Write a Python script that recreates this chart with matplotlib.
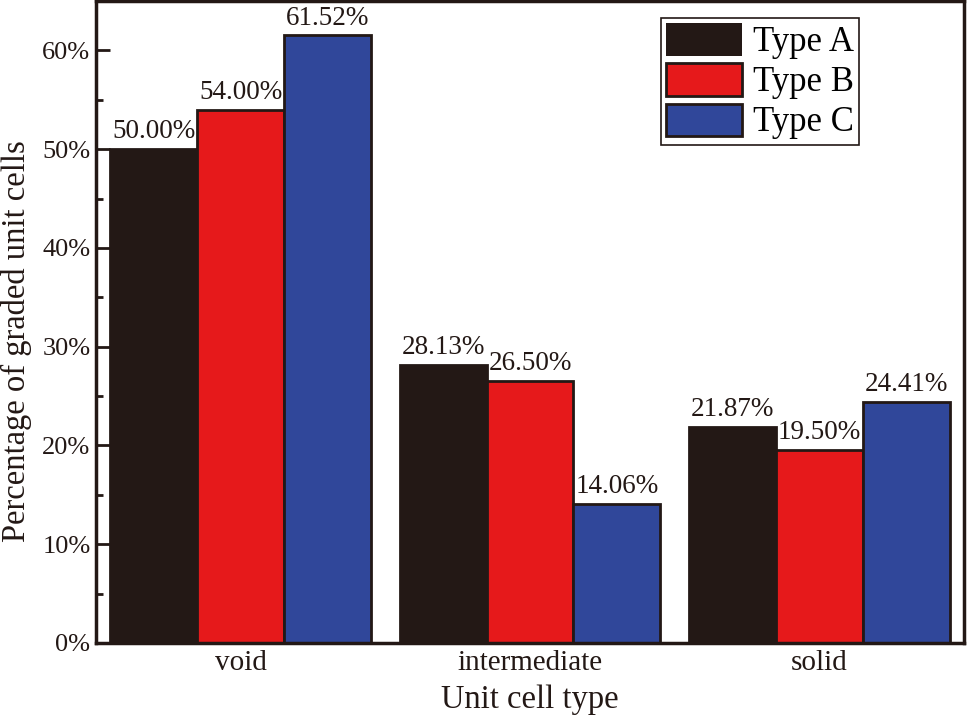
import matplotlib
matplotlib.use("Agg")
import matplotlib.pyplot as plt
import numpy as np
from matplotlib.ticker import MultipleLocator, FuncFormatter

categories = ["void", "intermediate", "solid"]
series_names = ["Type A", "Type B", "Type C"]
type_a = [50.00, 28.13, 21.87]
type_b = [54.00, 26.50, 19.50]
type_c = [61.52, 14.06, 24.41]
colors = ["#231815", "#E6191B", "#30479A"]

plt.rcParams["font.family"] = ["Liberation Serif", "DejaVu Serif"]

fig = plt.figure(figsize=(9.67, 7.18), dpi=100)
ax = fig.add_axes([0.0993, 0.1045, 0.8976, 0.894])

x = np.arange(len(categories))
w = 0.3
ec = "#231815"
for i, (vals, name, c) in enumerate(zip([type_a, type_b, type_c], series_names, colors)):
    bars = ax.bar(x + (i - 1) * w, vals, w, color=c, edgecolor=ec, linewidth=2, label=name)
    for b, v in zip(bars, vals):
        ax.text(b.get_x() + b.get_width() / 2, v + 0.5, f"{v:.2f}%", ha="center", va="bottom",
                fontsize=19.5, color="#231815")

ax.set_xlim(-0.5, 2.5)
ax.set_ylim(0, 65)
ax.set_xticks(x)
ax.set_xticklabels(categories, fontsize=21, color="#231815")
ax.yaxis.set_major_locator(MultipleLocator(10))
ax.yaxis.set_minor_locator(MultipleLocator(5))
ax.yaxis.set_major_formatter(FuncFormatter(lambda v, p: f"{v:.0f}%"))
ax.tick_params(axis="y", which="major", direction="in", length=10, width=2, labelsize=19,
               labelcolor="#231815", color="#231815", pad=4)
ax.tick_params(axis="y", which="minor", direction="in", length=5, width=2, color="#231815")
ax.tick_params(axis="x", which="both", length=0, pad=5)
for s in ax.spines.values():
    s.set_linewidth(2.5)
    s.set_color("#231815")

ax.set_xlabel("Unit cell type", fontsize=23.5, color="#231815", labelpad=6)
ax.set_ylabel("Percentage of graded unit cells", fontsize=23.5, color="#231815")
ax.yaxis.set_label_coords(-0.074, 0.47)

leg = ax.legend(loc="upper right", bbox_to_anchor=(0.879, 0.9735), fontsize=25, frameon=True,
                fancybox=False, edgecolor="#231815", handlelength=2.2, handleheight=1.05,
                borderpad=0.15, labelspacing=0.12, handletextpad=0.3, borderaxespad=0)
leg.get_frame().set_linewidth(1.2)
leg.get_frame().set_alpha(1)
leg.legend_handles[0].set_linewidth(0)

fig.savefig("out.png", dpi=100)
